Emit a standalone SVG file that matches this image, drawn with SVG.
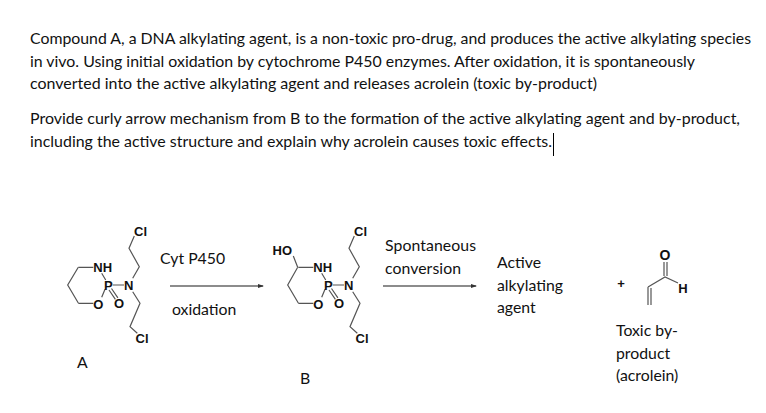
<svg xmlns="http://www.w3.org/2000/svg" xmlns:xlink="http://www.w3.org/1999/xlink" width="766" height="413" viewBox="0 0 766 413">
<style>
.t{font-family:Lato,"Liberation Sans",sans-serif;font-size:15.8px;fill:#111}
.b{fill:none;stroke:#555;stroke-width:1.2}
.a{font-family:"Liberation Sans",Arial,sans-serif;font-size:13px;font-weight:700;fill:#111;text-anchor:middle}
.c{stroke:#666;stroke-width:1.3;fill:none;marker-end:url(#h)}
</style>
<defs>
<marker id="h" markerWidth="6" markerHeight="4" refX="5" refY="2" orient="auto" markerUnits="userSpaceOnUse"><path d="M0 0L6 2L0 4Z" fill="#333"/></marker>
<g id="core">
<path class="b" d="M134.3 236L129 248.3L139.3 266.7L132.7 278.3M132.7 291.7L140 303.3L130 326.7L137.3 333.3M112.7 285H124M101.7 273.3L105.7 280M105 289.3L101.7 297.3M109 290L115.4 299.3M111.5 288.5L117.9 297.8M93.3 267.3H78.3M93.3 303.3H78.3"/>
<text class="a" x="140.5" y="236">Cl</text>
<text class="a" x="102.7" y="272">NH</text>
<text class="a" x="108.3" y="290">P</text>
<text class="a" x="128.7" y="289.5">N</text>
<text class="a" x="98.3" y="308.5">O</text>
<text class="a" x="119" y="308">O</text>
<text class="a" x="142" y="342.5">Cl</text>
</g>
</defs>
<rect width="766" height="413" fill="#fff"/>
<g id="prompt">
<text class="t" x="30" y="44" textLength="721" lengthAdjust="spacingAndGlyphs">Compound A, a DNA alkylating agent, is a non-toxic pro-drug, and produces the active alkylating species</text>
<text class="t" x="30" y="67" textLength="665" lengthAdjust="spacingAndGlyphs">in vivo. Using initial oxidation by cytochrome P450 enzymes. After oxidation, it is spontaneously</text>
<text class="t" x="30" y="89" textLength="567" lengthAdjust="spacingAndGlyphs">converted into the active alkylating agent and releases acrolein (toxic by-product)</text>
<text class="t" x="30" y="124" textLength="710" lengthAdjust="spacingAndGlyphs">Provide curly arrow mechanism from B to the formation of the active alkylating agent and by-product,</text>
<text class="t" x="30" y="147" textLength="522" lengthAdjust="spacingAndGlyphs">including the active structure and explain why acrolein causes toxic effects.</text>
<path d="M553.5 133V156" stroke="#000" stroke-width="1"/>
</g>
<g id="compound-a">
<use xlink:href="#core"/>
<path class="b" d="M78.3 267.3L67.7 285L78.3 303"/>
<text class="t" x="77" y="368">A</text>
</g>
<g id="compound-b">
<use xlink:href="#core" x="220"/>
<path class="b" d="M297.7 267.3L287.7 285L298.3 303M293.3 256L297.7 267.3"/>
<text class="a" x="282.3" y="255">HO</text>
<text class="t" x="300" y="384">B</text>
</g>
<g id="active-agent">
<text class="t" x="497" y="268">Active</text>
<text class="t" x="497" y="291">alkylating</text>
<text class="t" x="497" y="313">agent</text>
</g>
<g id="acrolein">
<text class="a" x="621" y="288">+</text>
<path class="b" d="M648 287L665 277L678 283M664 276V262M667 276V262M648 287V305M651 288V305"/>
<text class="a" x="665" y="260" style="font-size:14px">O</text>
<text class="a" x="683" y="292.5">H</text>
<text class="t" x="616" y="336">Toxic by-</text>
<text class="t" x="616" y="359">product</text>
<text class="t" x="616" y="381">(acrolein)</text>
</g>
<g id="connectors">
<path class="c" d="M170 286H263"/>
<path class="c" d="M383 286H476"/>
<text class="t" x="160" y="264">Cyt P450</text>
<text class="t" x="172" y="315">oxidation</text>
<text class="t" x="385" y="251" textLength="91">Spontaneous</text>
<text class="t" x="385" y="274" textLength="76">conversion</text>
</g>
</svg>
